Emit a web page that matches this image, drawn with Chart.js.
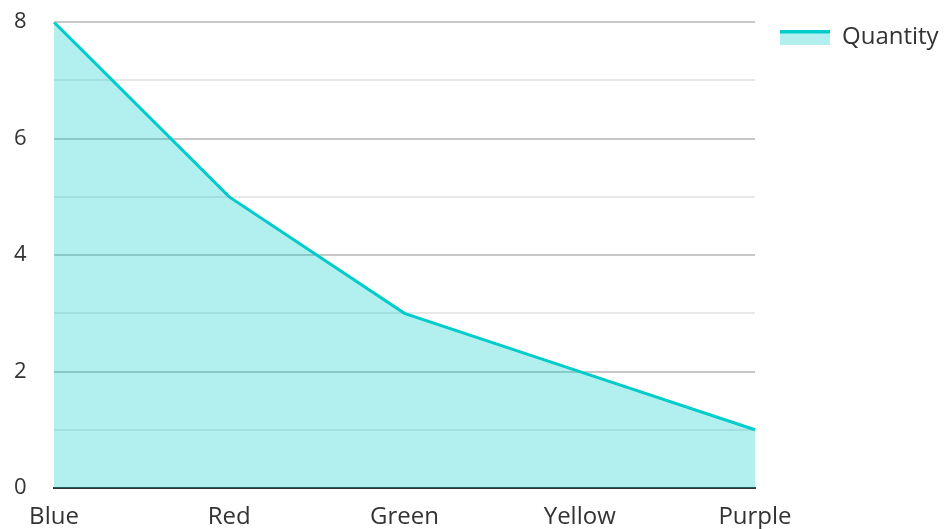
<!DOCTYPE html>
<html>
<head>
<meta charset="utf-8">
<script src="https://cdn.jsdelivr.net/npm/chart.js@4"></script>
<style>
html, body { margin: 0; padding: 0; background: #fff; }
#wrap { width: 944px; height: 529px; }
</style>
</head>
<body>
<div id="wrap"><canvas id="chart" width="944" height="529"></canvas></div>
<script>
/* data */
const categories = ["Blue", "Red", "Green", "Yellow", "Purple"];
const quantity = [8, 5, 3, 2, 1];
const yLabels = [0, 2, 4, 6, 8];

const lineColor = "rgb(0,204,204)";
const fillColor = "rgba(0,204,204,0.3)";

/* legend icon: light box with line on top */
function legendIcon() {
  const c = document.createElement("canvas");
  c.width = 50; c.height = 15;
  const g = c.getContext("2d");
  g.fillStyle = fillColor;
  g.fillRect(0, 0, 50, 15);
  g.fillStyle = lineColor;
  g.fillRect(0, 0, 50, 4);
  return c;
}

/* keep legend column a fixed width */
const legendWidth = {
  id: "legendWidth",
  beforeLayout(chart) {
    const lg = chart.legend;
    if (lg && !lg._patched) {
      const orig = lg.fit;
      lg.fit = function () { orig.call(this); this.width = 189; };
      lg._patched = true;
    }
  }
};

Chart.defaults.font.family = "'Open Sans', 'Noto Sans', sans-serif";
Chart.defaults.font.size = 22;
Chart.defaults.color = "#333";

new Chart(document.getElementById("chart"), {
  type: "line",
  data: {
    labels: categories,
    datasets: [{
      label: "Quantity",
      data: quantity,
      borderColor: lineColor,
      backgroundColor: fillColor,
      borderWidth: 3,
      fill: "origin",
      tension: 0,
      pointRadius: 0,
      pointStyle: legendIcon()
    }]
  },
  plugins: [legendWidth],
  options: {
    responsive: false,
    animation: false,
    layout: { padding: { top: 0, left: 14, right: 0, bottom: 0 } },
    plugins: {
      tooltip: { enabled: false },
      legend: {
        position: "right",
        align: "start",
        labels: {
          usePointStyle: true,
          pointStyleWidth: 50,
          boxHeight: 15,
          padding: 25,
          color: "#333",
          font: { size: 24 }
        }
      }
    },
    scales: {
      x: {
        offset: false,
        afterFit: s => { s.height = 41; },
        grid: { display: false, drawTicks: false },
        border: { display: true, color: "#333", width: 2 },
        ticks: { padding: 15, maxRotation: 0, font: { size: 24 } }
      },
      y: {
        min: 0,
        max: 8,
        afterFit: s => { s.width = 40; },
        border: { display: false },
        grid: {
          drawTicks: false,
          color: ctx => (yLabels.includes(ctx.tick.value) ? "#c8c8c8" : "#e8e8e8"),
          lineWidth: 2
        },
        ticks: {
          stepSize: 1,
          padding: 9,
          crossAlign: "far",
          font: { size: 22 },
          callback: v => (yLabels.includes(v) ? v : "")
        }
      }
    }
  }
});
</script>
</body>
</html>
